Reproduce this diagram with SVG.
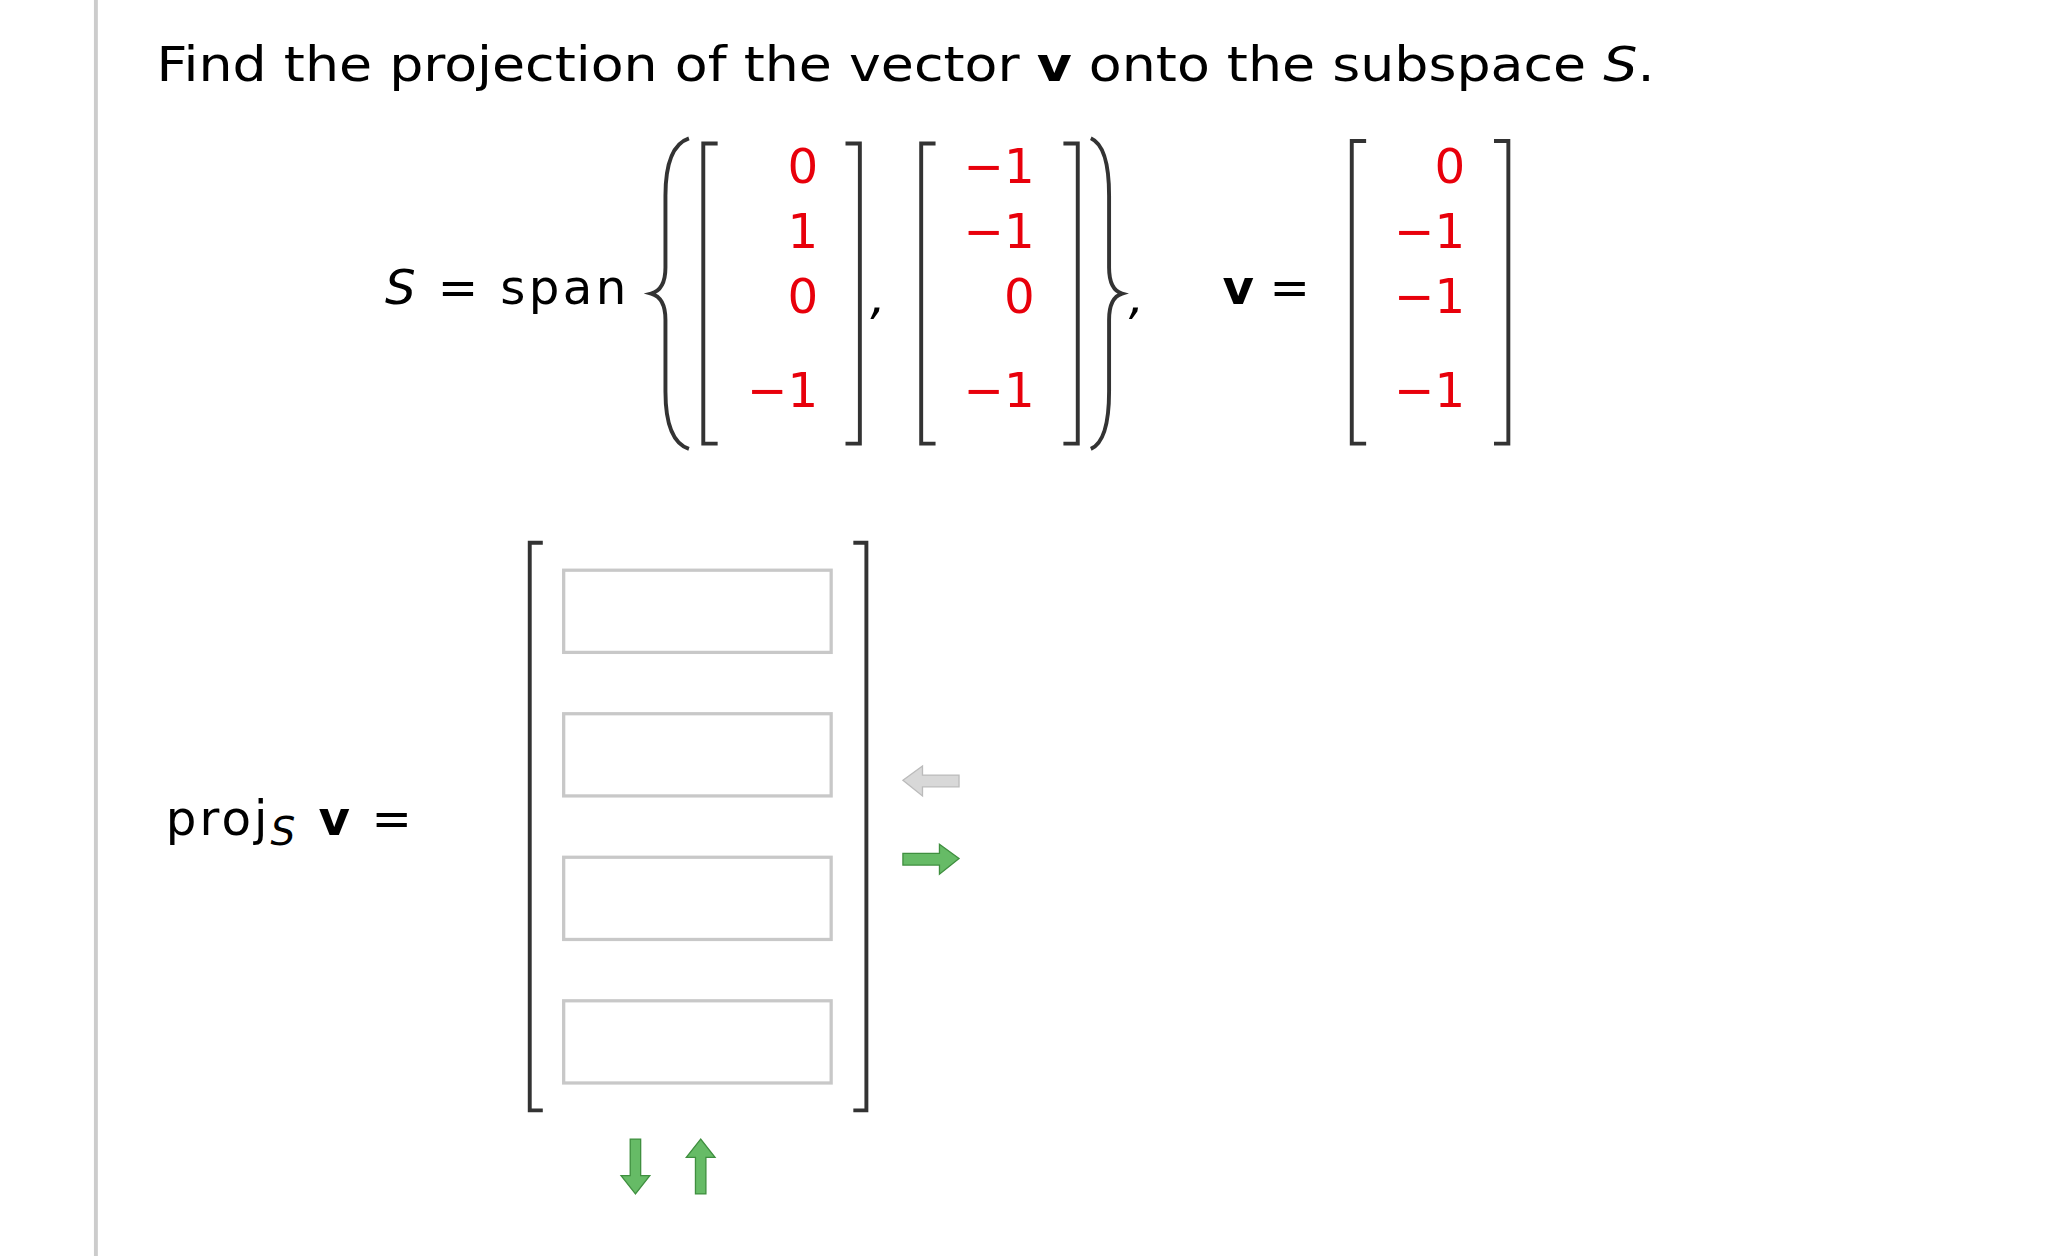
<svg xmlns="http://www.w3.org/2000/svg" width="2046" height="1256" viewBox="0 0 2046 1256">
<style>
.t{font-family:"DejaVu Sans",Verdana,sans-serif;font-size:37px;fill:#000}
.r{font-family:"DejaVu Sans",Verdana,sans-serif;font-size:37px;fill:#e8000b;text-anchor:end}
.br{fill:none;stroke:#333;stroke-width:3}
.box{fill:#fff;stroke:#c8c8c8;stroke-width:2.5}
</style>
<rect width="2046" height="1256" fill="#fff"/>
<g transform="scale(1.3048)">
<line x1="73.5" y1="0" x2="73.5" y2="963" stroke="#ccc" stroke-width="3"/>
<g id="title"><text class="t" x="120" y="62" textLength="1148" lengthAdjust="spacingAndGlyphs">Find the projection of the vector <tspan font-weight="bold">v</tspan> onto the subspace <tspan font-style="italic">S</tspan>.</text></g>
<g id="span">
<text class="t" x="295" y="233" letter-spacing="2.6"><tspan font-style="italic">S</tspan> = span</text>
<path class="br" d="M528,106 Q510,112 510,150 L510,205 Q510,222 499,225 Q510,228 510,245 L510,300 Q510,338 528,344"/>
<path class="br" d="M836,106 Q850,112 850,150 L850,205 Q850,222 860,225 Q850,228 850,245 L850,300 Q850,338 836,344"/>
<path class="br" d="M550,110 L539,110 L539,340 L550,340 M648,110 L659,110 L659,340 L648,340"/>
<path class="br" d="M717,110 L706,110 L706,340 L717,340 M815,110 L826,110 L826,340 L815,340"/>
<text class="r" x="627" y="140">0</text><text class="r" x="627" y="190">1</text><text class="r" x="627" y="240">0</text><text class="r" x="627" y="312">−1</text>
<text class="r" x="793" y="140">−1</text><text class="r" x="793" y="190">−1</text><text class="r" x="793" y="240">0</text><text class="r" x="793" y="312">−1</text>
<text class="t" x="667" y="240" font-style="italic">,</text>
<text class="t" x="865" y="240" font-style="italic">,</text>
</g>
<g id="v">
<text class="t" x="937" y="233"><tspan font-weight="bold">v</tspan> =</text>
<path class="br" d="M1047,108 L1036,108 L1036,340 L1047,340 M1145,108 L1156,108 L1156,340 L1145,340"/>
<text class="r" x="1123" y="140">0</text><text class="r" x="1123" y="190">−1</text><text class="r" x="1123" y="240">−1</text><text class="r" x="1123" y="312">−1</text>
</g>
<g id="proj">
<text class="t" x="127" y="640" letter-spacing="2.4">proj<tspan font-style="italic" font-size="30" dy="8">S</tspan><tspan dy="-8" font-weight="bold"> v</tspan> =</text>
<path class="br" d="M416,416 L406,416 L406,851 L416,851 M654,416 L664,416 L664,851 L654,851"/>
<rect class="box" x="432" y="437" width="205" height="63"/>
<rect class="box" x="432" y="547" width="205" height="63"/>
<rect class="box" x="432" y="657" width="205" height="63"/>
<rect class="box" x="432" y="767" width="205" height="63"/>
</g>
<g id="controls">
<path d="M692,598 L707,587 L707,594 L735,594 L735,603 L707,603 L707,610 Z" fill="#d8d8d8" stroke="#bbb" stroke-width="1"/>
<path d="M735,658 L720,647 L720,654 L692,654 L692,663 L720,663 L720,670 Z" fill="#66bb66" stroke="#3f8f3f" stroke-width="1"/>
<path d="M487,915 L476,901 L483,901 L483,873 L491,873 L491,901 L498,901 Z" fill="#66bb66" stroke="#3f8f3f" stroke-width="1"/>
<path d="M537,873 L526,887 L533,887 L533,915 L541,915 L541,887 L548,887 Z" fill="#66bb66" stroke="#3f8f3f" stroke-width="1"/>
</g>
</g>
</svg>
